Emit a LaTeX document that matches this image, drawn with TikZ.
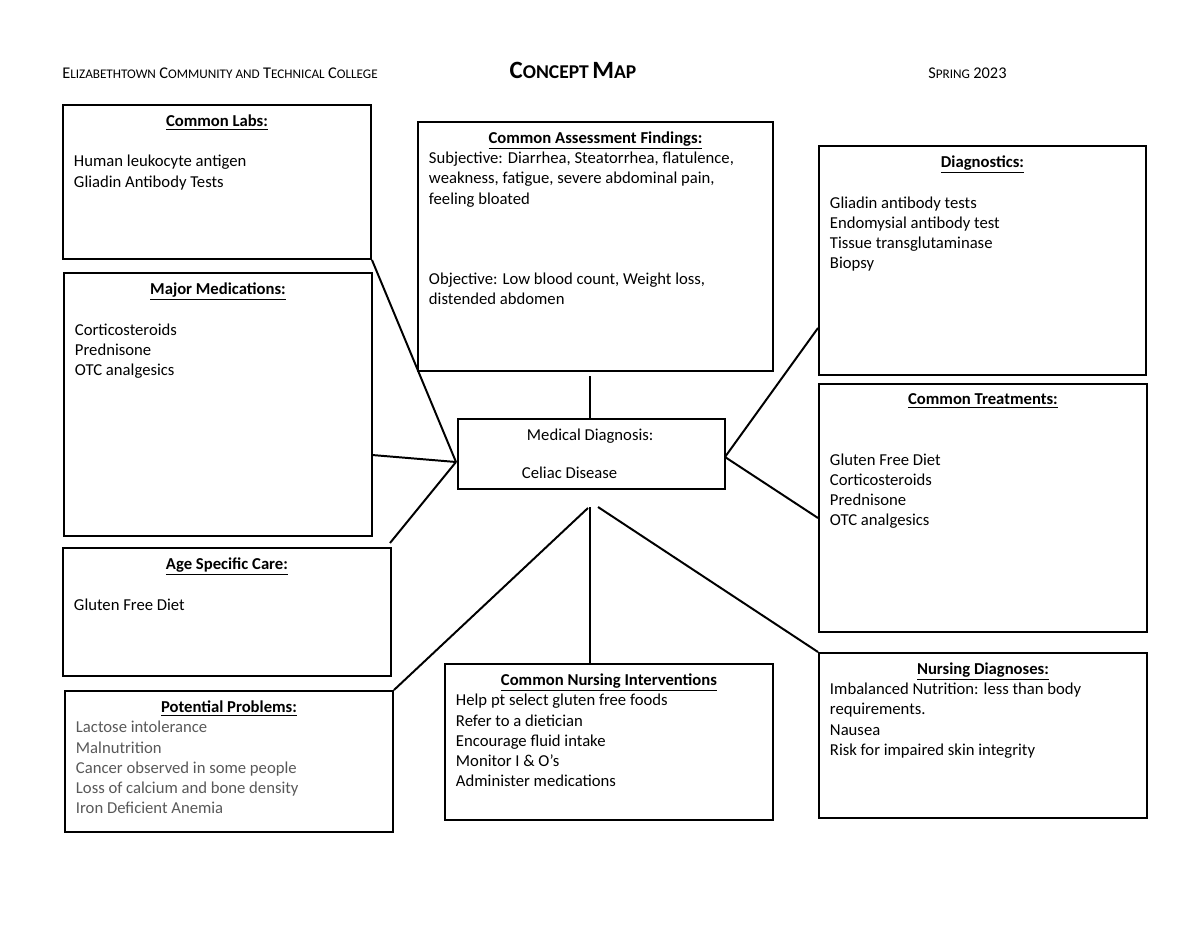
\documentclass[tikz,border=0pt]{standalone}
\usepackage{fontspec}
\setmainfont{Carlito}
\usepackage{xcolor}
\usepackage{tikz}
\newlength{\pxu}
\setlength{\pxu}{0.66pt}
\definecolor{probgray}{HTML}{595959}
\newcommand{\ttl}[1]{\centerline{\underline{\textbf{#1}}}}
\newcommand{\fsc}[2]{{\fontsize{10.8}{11}\selectfont #1}{\fontsize{8.7}{11}\selectfont #2}}
\newcommand{\bsc}[2]{{\fontsize{16.4}{17}\selectfont\bfseries #1}{\fontsize{12.9}{17}\selectfont\bfseries #2}}
\newcommand{\boxtxt}[3]{\parbox[c][#2][t]{#1}{\raggedright\hyphenpenalty=10000 #3}}
\tikzset{
  conbox/.style={draw, line width=1.3pt, inner xsep=11\pxu, inner ysep=10\pxu, anchor=north west, font=\fontsize{11}{13.3}\selectfont},
  conline/.style={line width=1.3pt}
}

\begin{document}
\begin{tikzpicture}[x=\pxu, y=-\pxu]
\useasboundingbox[fill=white] (0,0) rectangle (1200,927);

% header
\node[anchor=base west, inner sep=0pt] (college) at (62,78) {\fsc{E}{LIZABETHTOWN} \fsc{C}{OMMUNITY AND} \fsc{T}{ECHNICAL} \fsc{C}{OLLEGE}};
\node[anchor=base, inner sep=0pt] (title) at (573,78) {\bsc{C}{ONCEPT} \bsc{M}{AP}};
\node[anchor=base west, inner sep=0pt] (term) at (928,78) {\fsc{S}{PRING} \fsc{2023}{}};

% left column
\node[conbox] (labs) at (62,104) {\boxtxt{286\pxu}{134\pxu}{\ttl{Common Labs:}\par\vspace{13.3pt}Human leukocyte antigen\par Gliadin Antibody Tests}};
\node[conbox] (meds) at (63,272) {\boxtxt{286\pxu}{243\pxu}{\ttl{Major Medications:}\par\vspace{13.3pt}Corticosteroids\par Prednisone\par OTC analgesics}};
\node[conbox] (age) at (62,547) {\boxtxt{306\pxu}{108\pxu}{\ttl{Age Specific Care:}\par\vspace{13.3pt}Gluten Free Diet}};
\node[conbox] (prob) at (64,690) {\boxtxt{306\pxu}{121\pxu}{\ttl{Potential Problems:}\par\color{probgray}Lactose intolerance\par Malnutrition\par Cancer observed in some people\par Loss of calcium and bone density\par Iron Deficient Anemia}};

% middle column
\node[conbox] (assess) at (417,121) {\boxtxt{333\pxu}{229\pxu}{\ttl{Common Assessment Findings:}\par Subjective: Diarrhea, Steatorrhea, flatulence, weakness, fatigue, severe abdominal pain, feeling bloated\par\vspace{39.9pt}Objective: Low blood count, Weight loss, distended abdomen}};
\node[conbox] (diag) at (457,418) {\boxtxt{245\pxu}{50\pxu}{\hspace*{58\pxu}Medical Diagnosis:\par\vspace{12pt}\hspace*{53\pxu}Celiac Disease}};
\node[conbox] (nint) at (444,663) {\boxtxt{306\pxu}{136\pxu}{\ttl{Common Nursing Interventions}\par Help pt select gluten free foods\par Refer to a dietician\par Encourage fluid intake\par Monitor I \& O’s\par Administer medications}};

% right column
\node[conbox] (dx) at (818,145) {\boxtxt{305\pxu}{209\pxu}{\ttl{Diagnostics:}\par\vspace{13.3pt}Gliadin antibody tests\par Endomysial antibody test\par Tissue transglutaminase\par Biopsy}};
\node[conbox] (tx) at (818,383) {\boxtxt{306\pxu}{228\pxu}{\ttl{Common Treatments:}\par\vspace{26.6pt}Gluten Free Diet\par Corticosteroids\par Prednisone\par OTC analgesics}};
\node[conbox] (ndx) at (818,652) {\boxtxt{306\pxu}{145\pxu}{\ttl{Nursing Diagnoses:}\par Imbalanced Nutrition: less than body requirements.\par Nausea\par Risk for impaired skin integrity}};

% connector ends
\coordinate (dl) at (456,462);
\coordinate (dr) at (725,457);
\coordinate (medsR) at (372,455);
\coordinate (ageT) at (390,543);
\coordinate (asB) at (590,376);
\coordinate (dxL) at (818,328);
\coordinate (txL) at (818,518);
\coordinate (bm) at (590,507);
\coordinate (bl) at (588,508);
\coordinate (br) at (598,507);

\draw[conline] (labs.south east) -- (dl);
\draw[conline] (medsR) -- (dl);
\draw[conline] (ageT) -- (dl);
\draw[conline] (asB) -- (asB |- diag.north);
\draw[conline] (dr) -- (dxL);
\draw[conline] (dr) -- (txL);
\draw[conline] (bm) -- (bm |- nint.north);
\draw[conline] (bl) -- (prob.north east);
\draw[conline] (br) -- (ndx.north west);
\end{tikzpicture}
\end{document}
